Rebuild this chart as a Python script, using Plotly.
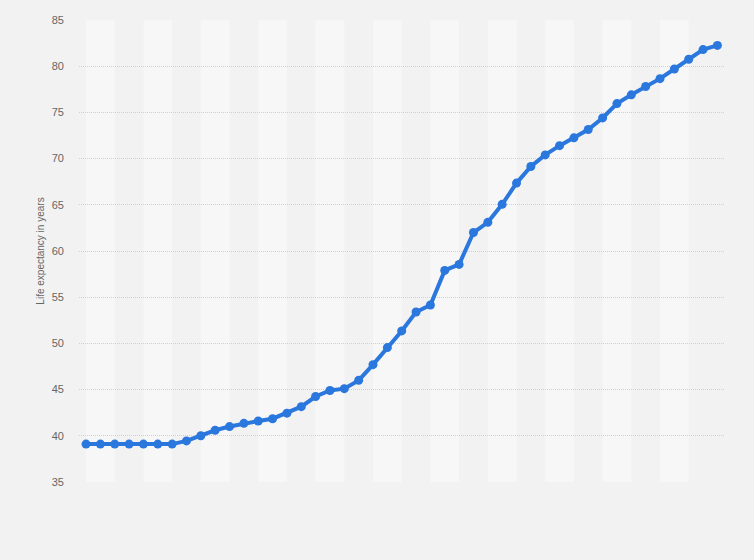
import plotly.graph_objects as go

years = [str(y) for y in range(1800, 2021, 5)]
life_expectancy = [
    39.1, 39.1, 39.1, 39.1, 39.1, 39.1, 39.1, 39.45, 40.0, 40.6,
    41.0, 41.35, 41.6, 41.85, 42.45, 43.15, 44.25, 44.9, 45.1, 46.0,
    47.7, 49.55, 51.35, 53.4, 54.15, 57.9, 58.55, 62.0, 63.1, 65.05,
    67.35, 69.15, 70.4, 71.4, 72.25, 73.15, 74.4, 75.95, 76.9, 77.8,
    78.65, 79.7, 80.75, 81.8, 82.25,
]
y_ticks = [35, 40, 45, 50, 55, 60, 65, 70, 75, 80, 85]

PAPER = "#f2f2f2"
BAND = "#f7f7f7"
BLUE = "#2a77dd"

fig = go.Figure()
fig.add_trace(go.Scatter(
    x=list(range(len(years))),
    y=life_expectancy,
    customdata=years,
    mode="lines+markers",
    line=dict(color=BLUE, width=4),
    marker=dict(color=BLUE, size=9),
    hovertemplate="%{customdata}: %{y}<extra></extra>",
))

shapes = []
for start in range(0, len(years) - 2, 4):
    shapes.append(dict(
        type="rect", xref="x", yref="paper",
        x0=start, x1=start + 2, y0=0, y1=1,
        fillcolor=BAND, line=dict(width=0), layer="below",
    ))

fig.update_layout(
    width=754, height=560,
    margin=dict(l=79, r=29, t=20, b=78),
    paper_bgcolor=PAPER, plot_bgcolor=PAPER,
    showlegend=False,
    shapes=shapes,
    font=dict(family="Liberation Sans, Arial, sans-serif", color="#666666"),
    xaxis=dict(
        range=[-0.49, len(years) - 1 + 0.53],
        showticklabels=False, showgrid=False, zeroline=False, showline=False,
        ticks="",
    ),
    yaxis=dict(
        range=[35, 85],
        tickvals=y_ticks,
        tickfont=dict(size=11, color="#666666"),
        showgrid=True, gridcolor="#d0d0d0", griddash="1px,1px", gridwidth=1,
        zeroline=False, showline=False, ticks="",
        ticklabelstandoff=14,
        title=dict(text="Life expectancy in years", font=dict(size=10, color="#666666"), standoff=5),
    ),
)

fig.write_html(
    "out.html",
    config={"displayModeBar": False},
    post_script="document.body.style.margin='0';document.body.style.background='#f2f2f2';",
)
